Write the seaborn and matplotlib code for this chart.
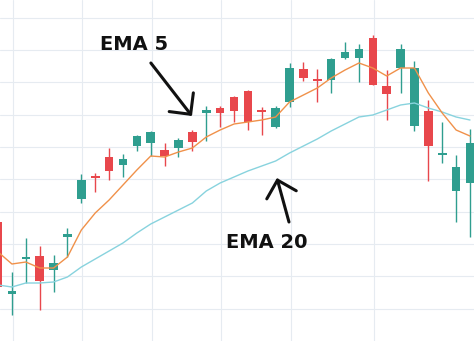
import numpy as np
import pandas as pd
import matplotlib
matplotlib.use("Agg")
import matplotlib.pyplot as plt
import seaborn as sns

# ---- data (price units) ----
idx = list(range(35))
opens  = [119, 47, 82, 85, 71, 104, 142, 165, 184, 176, 195, 198, 191, 193, 209, 228, 233, 244, 250, 231, 214, 239, 272, 262, 261, 283, 283, 303, 255, 273, 215, 230, 186, 150, 158]
closes = [54, 50, 84, 60, 78, 107, 161, 163, 170, 182, 205, 209, 185, 201, 199, 231, 228, 230, 219, 229, 233, 273, 263, 260, 282, 289, 292, 256, 247, 292, 273, 195, 188, 174, 198]
highs  = [120, 69, 103, 95, 86, 113, 167, 168, 193, 187, 206, 210, 198, 203, 211, 235, 235, 245, 251, 234, 235, 278, 279, 272, 283, 299, 297, 306, 271, 297, 280, 241, 219, 186, 212]
lows   = [53, 26, 58, 31, 49, 84, 138, 149, 161, 164, 190, 185, 175, 184, 190, 200, 214, 219, 211, 206, 213, 234, 260, 239, 248, 282, 259, 256, 221, 248, 210, 160, 178, 119, 104]
ema5   = [89, 77, 79, 73, 73, 84, 111, 128, 141, 156, 171, 185, 184, 189, 193, 204, 211, 217, 219, 221, 224, 239, 246, 253, 263, 271, 278, 273, 265, 273, 273, 248, 228, 211, 205]
ema20  = [56, 54, 58, 58, 59, 64, 74, 82, 90, 98, 108, 117, 124, 131, 138, 150, 158, 164, 170, 175, 180, 188, 195, 202, 210, 217, 224, 226, 231, 236, 238, 233, 229, 224, 221]
labels = ["EMA 5", "EMA 20"]
grid_candles = [1, 6, 11, 16, 21, 27]
grid_prices = [323.5, 291.2, 258.8, 226.4, 194.1, 161.7, 129.4, 97.0, 64.6, 32.3]

GREEN = "#2f9e8f"
RED = "#e8474c"
ORANGE = "#f0914a"
CYAN = "#88d3de"

df = pd.DataFrame({"i": idx, "open": opens, "close": closes, "high": highs, "low": lows,
                   "ema5": ema5, "ema20": ema20})

sns.set_theme(style="white")
fig = plt.figure(figsize=(4.74, 3.41), dpi=100)
ax = fig.add_axes([0, 0, 1, 1])
ax.set_facecolor("white")

for g in grid_candles:
    ax.axvline(g + 0.08, color="#e6ebf1", lw=0.8, zorder=0)
for p in grid_prices:
    ax.axhline(p, color="#e6ebf1", lw=0.8, zorder=0)

up = df["close"] >= df["open"]
colors = np.where(up, GREEN, RED)
ax.vlines(df["i"], df["low"], df["high"], colors=colors, lw=1.0, zorder=2)
body_bottom = np.minimum(df["open"], df["close"])
body_h = np.maximum(np.abs(df["close"] - df["open"]), 1.5)
ax.bar(df["i"], body_h, bottom=body_bottom, width=0.62, color=colors, zorder=3, linewidth=0)

sns.lineplot(data=df, x="i", y="ema20", ax=ax, color=CYAN, lw=1.0, zorder=4)
sns.lineplot(data=df, x="i", y="ema5", ax=ax, color=ORANGE, lw=1.0, zorder=5)

arrow_style = "->,head_length=11,head_width=11"
ax.annotate("", xy=(13.97, 225), xytext=(11.01, 278),
            arrowprops=dict(arrowstyle=arrow_style, lw=2.2, color="#111111",
                            shrinkA=0, shrinkB=0, mutation_scale=1), zorder=6)
ax.annotate("", xy=(20.09, 163), xytext=(20.96, 119),
            arrowprops=dict(arrowstyle=arrow_style, lw=2.2, color="#111111",
                            shrinkA=0, shrinkB=0, mutation_scale=1), zorder=6)
ax.text(9.83, 296, labels[0], ha="center", va="center", fontsize=14,
        fontweight="bold", color="#111111", family="DejaVu Sans", zorder=7)
ax.text(19.37, 98.5, labels[1], ha="center", va="center", fontsize=14,
        fontweight="bold", color="#111111", family="DejaVu Sans", zorder=7)

ax.set_xlim(0.14, 34.29)
ax.set_ylim(0, 341)
ax.set_xlabel("")
ax.set_ylabel("")
ax.set_xticks([])
ax.set_yticks([])
for s in ax.spines.values():
    s.set_visible(False)

fig.savefig("out.png", dpi=100)
